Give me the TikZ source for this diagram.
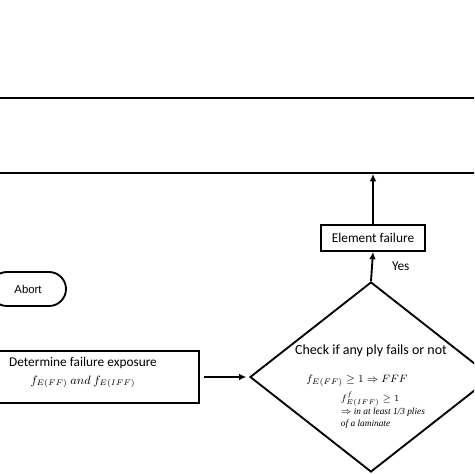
\documentclass[tikz,border=0pt]{standalone}
\usepackage{fontspec}
\setmainfont{Carlito}
\newfontfamily\arialfont{Liberation Sans}
\newfontfamily\timesfont{Liberation Serif}
\usepackage{amsmath,amssymb}
\usetikzlibrary{arrows.meta,shapes.geometric,shapes.misc}

\begin{document}
\begin{tikzpicture}[x=0.75pt, y=-0.75pt, line width=1.4pt,
  box/.style={draw, rectangle, inner sep=0pt},
  flow/.style={-{Latex[length=5.5pt,width=5pt]}},
  note/.style={anchor=base west, inner sep=0pt, font=\timesfont\itshape\fontsize{7}{8}\selectfont},
  every node/.style={font=\fontsize{10}{12}\selectfont}]
  \useasboundingbox (0,0) rectangle (474,474);
  \clip (0,0) rectangle (474,474);

  \node[box, minimum width=390pt, minimum height=56.25pt] (band) at (240,135.5) {};
  \node[box, minimum width=78pt, minimum height=19.5pt] (elem) at (373,238) {Element failure};
  \node[draw, rounded rectangle, inner sep=0pt, minimum width=57pt, minimum height=25.5pt,
        font=\arialfont\fontsize{8.5}{10}\selectfont] (abort) at (28,289) {Abort};
  \node[box, minimum width=174pt, minimum height=39pt] (det) at (83,377) {};
  \node[anchor=base] (dettxt) at (83,366) {Determine failure exposure};
  \node[anchor=base, font=\fontsize{9}{11}\selectfont] (detfrm) at (83,384) {$f_{E(FF)}\ and\ f_{E(IFF)}$};
  \node[draw, diamond, inner sep=0pt, minimum width=181.5pt, minimum height=142.5pt] (check) at (371,377) {};

  % text inside the decision
  \node[anchor=base] (chk) at (371,354) {\fontsize{10.5}{13}\selectfont Check if any ply fails or not};
  \node[anchor=base, inner sep=0pt, font=\fontsize{8.5}{11}\selectfont] (ff) at (357,382) {$f_{E(FF)} \geq 1 \Rightarrow FFF$};
  \node[note] (iff1) at (340,401) {$f^{f}_{E(IFF)} \geq 1$};
  \node[note] (iff2) at (340,414) {$\Rightarrow$ in at least 1/3 plies};
  \node[note] (iff3) at (340,426) {of a laminate};

  \draw[flow] (check.north) -- (elem.south) node[pos=0.5, right=11pt] (yes) {Yes};
  \draw[flow] (elem.north) -- (elem.north |- band.south);
  \draw[flow, shorten <=3pt, shorten >=2pt] (det.east) -- (check.west);
\end{tikzpicture}
\end{document}
